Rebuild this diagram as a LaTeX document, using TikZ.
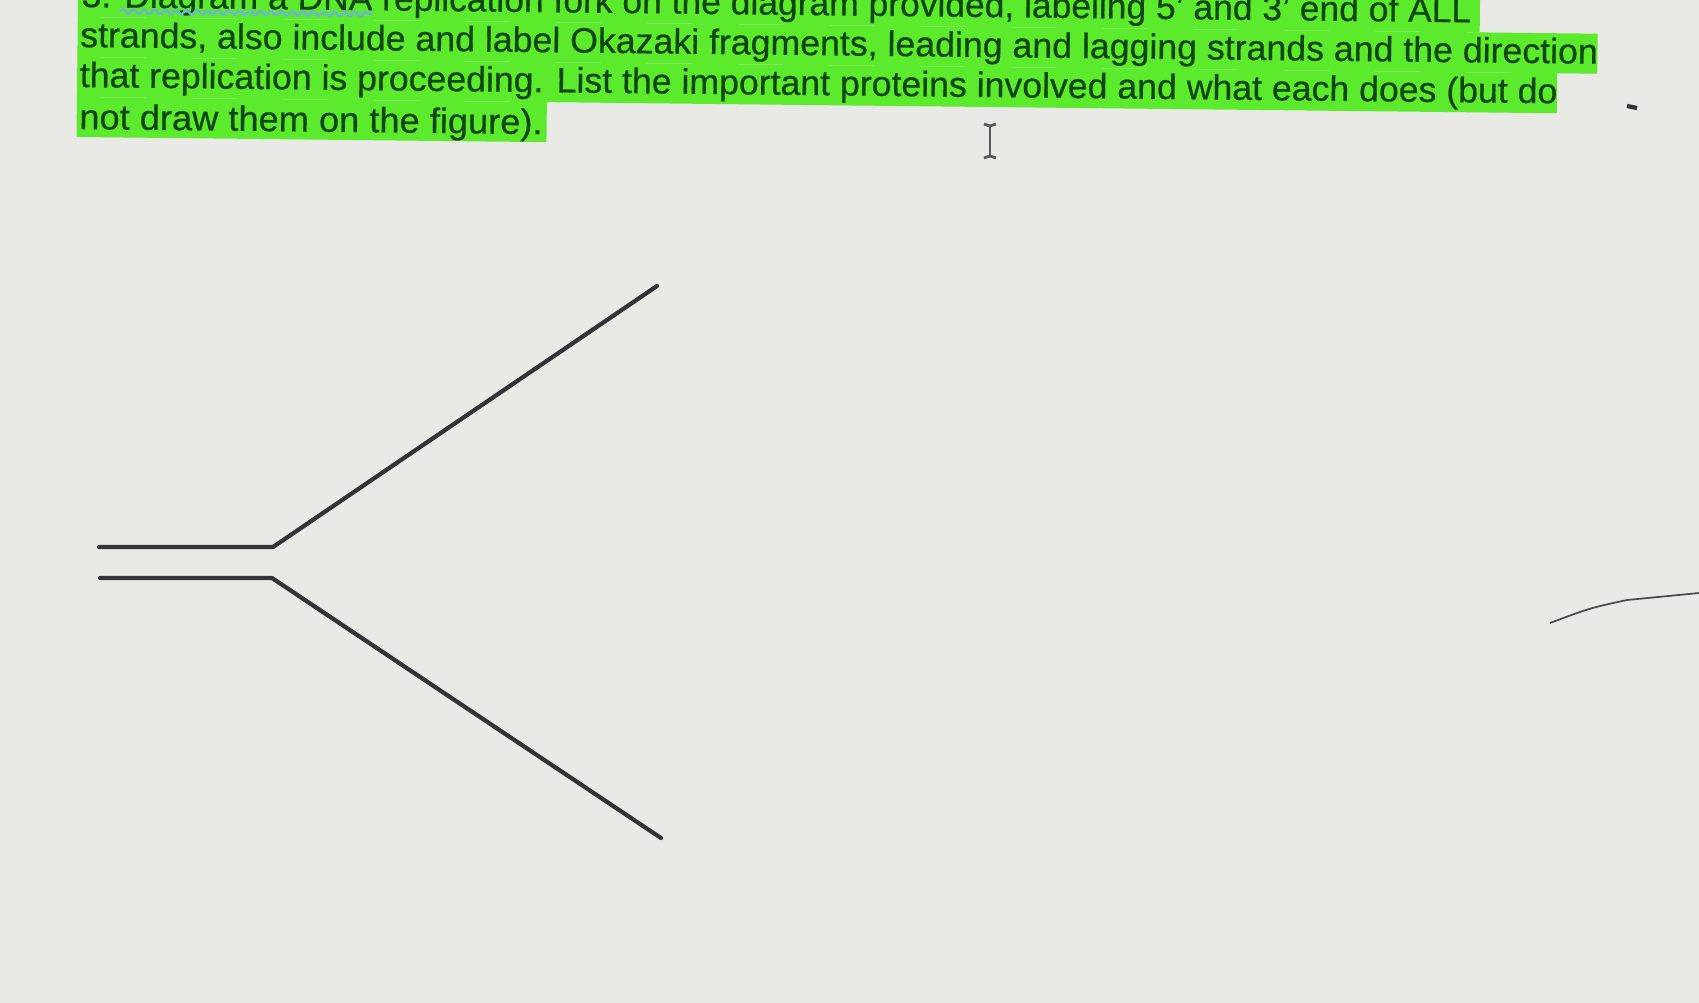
\documentclass[tikz,border=0pt]{standalone}
\usepackage{graphicx}
\usepackage{fontspec}
\setmainfont{Liberation Sans}
\newfontfamily\qfont{Liberation Sans}[FakeBold=0.6]
\usetikzlibrary{decorations.pathmorphing,calc}
\definecolor{paper}{RGB}{233,233,230}
\definecolor{marker}{RGB}{92,234,44}
\definecolor{inkgreen}{RGB}{16,70,12}
\definecolor{strand}{RGB}{52,52,54}
\definecolor{spell}{RGB}{110,180,210}
\newcommand{\fitline}[2]{\resizebox{#1}{\height}{#2}}
\tikzset{
	qtext/.style={anchor=base west, inner sep=0pt, transform shape, text=inkgreen, font=\qfont\fontsize{10}{12}\selectfont},
	band/.style={fill=marker, draw=none},
	dna/.style={draw=strand, line width=1.2pt, line join=round, line cap=round}
}
\begin{document}
\begin{tikzpicture}[x=0.01cm, y=-0.01cm]

		%%Location
		\fill[paper] (0,0) rectangle (1699,1003);
		\useasboundingbox (0,0) rectangle (1699,1003);

		%%Question, highlighted
		\begin{scope}[rotate around={-0.63:(78,0)}]
		\fill[band] (78,-23) rectangle (1480,17);
		\fill[band] (78,17) rectangle (1598,57);
		\fill[band] (78,57) rectangle (1558,97);
		\fill[band] (78,97) rectangle (548,137);

		\node[qtext] (q1) at (81,7) {\fitline{13.89cm}{3. Diagram a DNA replication fork on the diagram provided, labeling 5’ and 3’ end of ALL}};
		\node[qtext] (q2) at (80,47) {\fitline{15.17cm}{strands, also include and label Okazaki fragments, leading and lagging strands and the direction}};
		\node[qtext] (q3) at (80,87) {\fitline{14.77cm}{that replication is proceeding. List the important proteins involved and what each does (but do}};
		\node[qtext] (q4) at (80,129) {\fitline{4.63cm}{not draw them on the figure).}};

		%%spell check
		\coordinate (w1) at (120,11);
		\coordinate (w2) at (373,11);
		\draw[spell, line width=0.7pt, decorate, decoration={snake, amplitude=0.6pt, segment length=3pt}] (w1) -- (w2);
		\end{scope}

		%%cursor
		\coordinate (c1) at (990,126);
		\coordinate (c2) at (990,156);
		\draw[gray!70!black, line width=0.8pt] (c1) -- (c2);
		\draw[gray!70!black, line width=0.8pt] ($(c1)+(-6,-2)$) -- (c1) -- ($(c1)+(6,-2)$);
		\draw[gray!70!black, line width=0.8pt] ($(c2)+(-6,2)$) -- (c2) -- ($(c2)+(6,2)$);

		%%fork
		\coordinate (t0) at (99,547);
		\coordinate (tf) at (273,547);
		\coordinate (t1) at (657,286);
		\coordinate (b0) at (100,578);
		\coordinate (bf) at (272,578);
		\coordinate (b1) at (661,838);
		\draw[dna] (t0) -- (tf) -- (t1);
		\draw[dna] (b0) -- (bf) -- (b1);

		%%marks
		\coordinate (m1) at (1627,106);
		\coordinate (m2) at (1637,108);
		\draw[strand, line width=1.2pt] (m1) -- (m2);
		\coordinate (s1) at (1550,623);
		\coordinate (s2) at (1627,600);
		\coordinate (s3) at (1699,593);
		\draw[gray!60!black, line width=0.5pt] (s1) .. controls (1590,608) .. (s2) -- (s3);

\end{tikzpicture}
\end{document}
